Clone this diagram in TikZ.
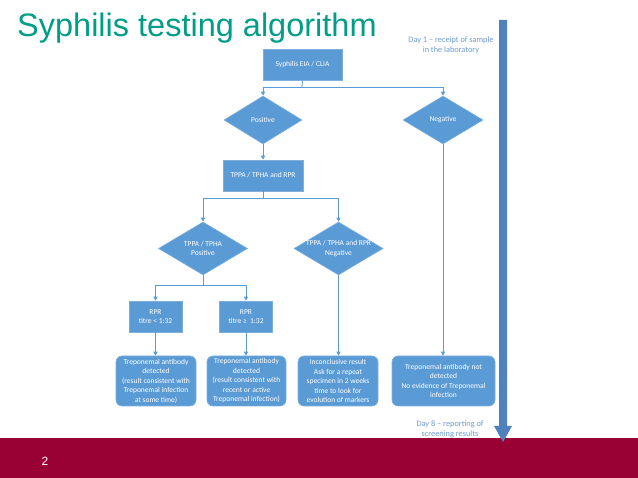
\documentclass[tikz,border=0pt]{standalone}
\usepackage{fontspec}
\setmainfont{Carlito}
\newfontfamily\titlefont{Liberation Sans}
\usetikzlibrary{shapes.geometric,arrows.meta}
\definecolor{boxblue}{RGB}{91,155,213}
\definecolor{lineblue}{RGB}{91,155,213}
\definecolor{arrowblue}{RGB}{79,129,189}
\definecolor{daytext}{RGB}{110,155,210}
\definecolor{titleteal}{RGB}{0,158,135}
\definecolor{barred}{RGB}{153,0,51}
\begin{document}
\begin{tikzpicture}[x=1pt,y=-1pt,
  txt/.style={font=\fontsize{7.5}{9.5}\selectfont, text=white, align=center},
  sqbox/.style={rectangle, fill=boxblue, draw=boxblue!80!white, line width=0.6pt, inner sep=0pt, txt},
  rbox/.style={sqbox, rounded corners=6pt},
  dia/.style={diamond, fill=boxblue, draw=boxblue!80!white, line width=0.6pt, inner sep=0pt},
  conn/.style={draw=lineblue, line width=0.8pt},
  arr/.style={conn, -{Triangle[length=4pt,width=4pt]}},
  daytxt/.style={font=\fontsize{8.3}{10.5}\selectfont, text=daytext, align=center, inner sep=0pt},
]
\useasboundingbox (0,0) rectangle (638,478);
\fill[white] (0,0) rectangle (638,478);
\fill[barred] (0,438) rectangle (638,478);

\node[anchor=base west, inner sep=0pt, font=\titlefont\fontsize{32.5}{32.5}\selectfont, text=titleteal] (title) at (17,37) {Syphilis testing algorithm};
\node[font=\titlefont\fontsize{12}{12}\selectfont, text=white, inner sep=0pt] (pg) at (45,461) {2};

% big time arrow
\coordinate (ttop) at (503,20);
\coordinate (tbot) at (503,442);
\fill[arrowblue] ([xshift=-4pt]ttop) -- ([xshift=4pt]ttop) -- ([xshift=4pt,yshift=16pt]tbot) -- ([xshift=9pt,yshift=16pt]tbot) -- (tbot) -- ([xshift=-9pt,yshift=16pt]tbot) -- ([xshift=-4pt,yshift=16pt]tbot) -- cycle;

\node[daytxt] (d1) at (451,45.5) {Day 1 – receipt of sample\\in the laboratory};
\node[daytxt] (d8) at (450,429.5) {Day 8 – reporting of\\screening results};

% nodes
\node[sqbox, minimum width=79, minimum height=31] (eia) at (302.5,65) {Syphilis EIA / CLIA};
\node[dia, minimum width=78, minimum height=48, label={[txt]center:Positive}] (pos) at (263,120) {};
\node[dia, minimum width=80, minimum height=48, label={[txt]center:Negative}] (neg) at (443,120) {};
\node[sqbox, minimum width=80, minimum height=31] (tp) at (263,175.5) {TPPA / TPHA and RPR};
\node[dia, minimum width=89, minimum height=53, label={[txt]center:TPPA / TPHA\\Positive}] (tpos) at (203,248.5) {};
\node[dia, minimum width=89, minimum height=53, label={[txt]center:TPPA / TPHA and RPR\\Negative}] (tneg) at (338.5,248.5) {};
\node[sqbox, minimum width=53, minimum height=31] (rpr1) at (155.5,316.5) {RPR\\titre < 1:32};
\node[sqbox, minimum width=53, minimum height=31] (rpr2) at (246,316.5) {RPR\\titre ≥\ \ 1:32};
\node[rbox, minimum width=80, minimum height=50] (r1) at (156,381) {Treponemal antibody\\detected\\(result consistent with\\Treponemal infection\\at some time)};
\node[rbox, minimum width=79, minimum height=50] (r2) at (246.5,381) {Treponemal antibody\\detected\\(result consistent with\\recent or active\\Treponemal infection)};
\node[rbox, minimum width=80, minimum height=50] (r3) at (338,381) {Inconclusive result\\Ask for a repeat\\specimen in 2 weeks\\time to look for\\evolution of markers};
\node[rbox, minimum width=103, minimum height=50] (r4) at (443.5,381) {Treponemal antibody not\\detected\\No evidence of Treponemal\\infection};

% connectors
\coordinate (j1) at (302,87);
\draw[conn] (eia.south) -- (j1);
\draw[arr] (j1) -| (pos.north);
\draw[arr] (j1) -| (neg.north);
\draw[arr] (pos.south) -- (tp.north);
\coordinate (j2) at (263,198);
\draw[conn] (tp.south) -- (j2);
\draw[arr] (j2) -| (tpos.north);
\draw[arr] (j2) -| (tneg.north);
\coordinate (j3) at (203,285);
\draw[conn] (tpos.south) -- (j3);
\draw[arr] (j3) -| (rpr1.north);
\draw[arr] (j3) -| (rpr2.north);
\draw[arr] (rpr1.south) -- (rpr1.south |- r1.north);
\draw[arr] (rpr2.south) -- (rpr2.south |- r2.north);
\draw[arr] (tneg.south) -- (tneg.south |- r3.north);
\draw[arr] (neg.south) -- (neg.south |- r4.north);
\end{tikzpicture}
\end{document}
